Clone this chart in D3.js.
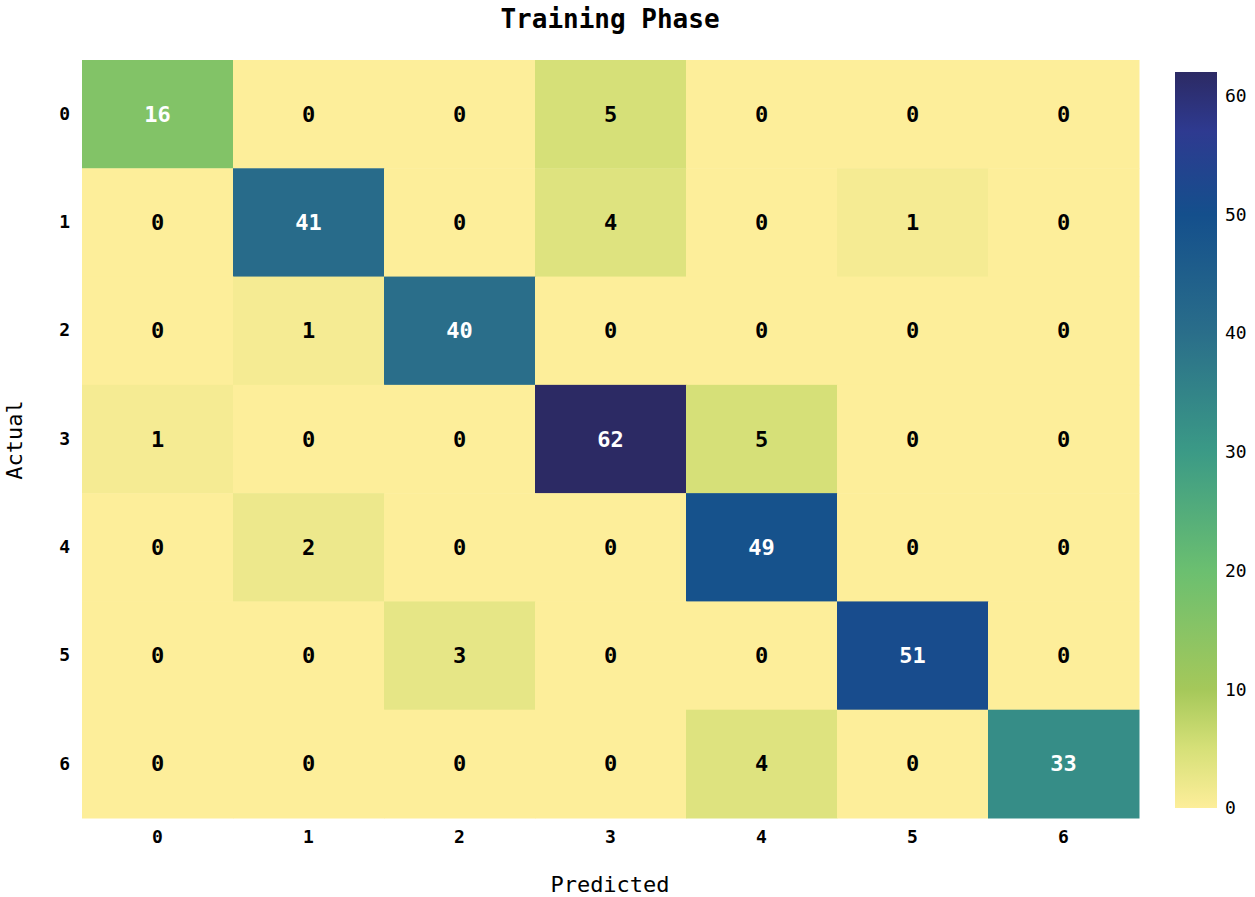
<!DOCTYPE html><html><head><meta charset="utf-8"><script src="https://cdn.jsdelivr.net/npm/d3@7"></script>
<style>body{margin:0;background:#fff}text{font-family:"DejaVu Sans Mono",monospace}</style></head><body><svg id="c" width="1255" height="897"></svg>
<script>
const labels=["0","1","2","3","4","5","6"];
const matrix=[[16,0,0,5,0,0,0],[0,41,0,4,0,1,0],[0,1,40,0,0,0,0],[1,0,0,62,5,0,0],[0,2,0,0,49,0,0],[0,0,3,0,0,51,0],[0,0,0,0,4,0,33]];
const cbTicks=[0,10,20,30,40,50,60];
const stopVals=[0,5,10,20,30,40,50,57,62];
const stopCols=["#fdee9a","#d6e078","#a5c85a","#6bbf70","#3b9a86","#2a6e8a","#144f8c","#2e3a90","#2c2a64"];
const color=d3.scaleLinear().domain(stopVals).range(stopCols).interpolate(d3.interpolateRgb);
const svg=d3.select("#c");
const L=82,R=1139,T=60,B=818;
const x=d3.scaleBand().domain(labels).range([L,R]);
const y=d3.scaleBand().domain(labels).range([T,B]);
const cells=[];matrix.forEach((r,i)=>r.forEach((v,j)=>cells.push({i,j,v})));
svg.selectAll("rect.c").data(cells).join("rect").attr("x",d=>x(labels[d.j])).attr("y",d=>y(labels[d.i])).attr("width",x.bandwidth()+0.5).attr("height",y.bandwidth()+0.5).attr("fill",d=>color(d.v));
svg.selectAll("text.v").data(cells).join("text").attr("x",d=>x(labels[d.j])+x.bandwidth()/2).attr("y",d=>y(labels[d.i])+y.bandwidth()/2).attr("text-anchor","middle").attr("dominant-baseline","central").attr("font-size",22).attr("font-weight","bold").attr("fill",d=>d.v>15?"#fff":"#000").text(d=>d.v);
const xa=svg.append("g").attr("transform",`translate(0,${B})`).call(d3.axisBottom(x).tickSize(0).tickPadding(12));
const ya=svg.append("g").attr("transform",`translate(${L},0)`).call(d3.axisLeft(y).tickSize(0).tickPadding(12));
[xa,ya].forEach(a=>{a.select(".domain").remove();a.selectAll("text").attr("font-size",18).attr("font-weight","bold").attr("fill","#000").style("font-family","DejaVu Sans Mono");});
svg.append("text").attr("x",610).attr("y",28).attr("text-anchor","middle").attr("font-size",26).attr("font-weight","bold").text("Training Phase");
svg.append("text").attr("x",610).attr("y",892).attr("text-anchor","middle").attr("font-size",22).text("Predicted");
svg.append("text").attr("transform","translate(22,440) rotate(-90)").attr("text-anchor","middle").attr("font-size",22).text("Actual");
// colorbar
const cbT=72,cbB=808,cbX=1175,cbW=42;
const cy=d3.scaleLinear().domain([0,62]).range([cbB,cbT]);
const defs=svg.append("defs");const g=defs.append("linearGradient").attr("id","g").attr("x1",0).attr("y1",1).attr("x2",0).attr("y2",0);
stopVals.forEach((v,k)=>g.append("stop").attr("offset",v/62).attr("stop-color",stopCols[k]));
svg.append("rect").attr("x",cbX).attr("y",cbT).attr("width",cbW).attr("height",cbB-cbT).attr("fill","url(#g)");
const ca=svg.append("g").attr("transform",`translate(${cbX+cbW},0)`).call(d3.axisRight(cy).tickValues(cbTicks).tickSize(0).tickPadding(8));
ca.select(".domain").remove();ca.selectAll("text").attr("font-size",18).attr("fill","#000").style("font-family","DejaVu Sans Mono");
</script></body></html>
